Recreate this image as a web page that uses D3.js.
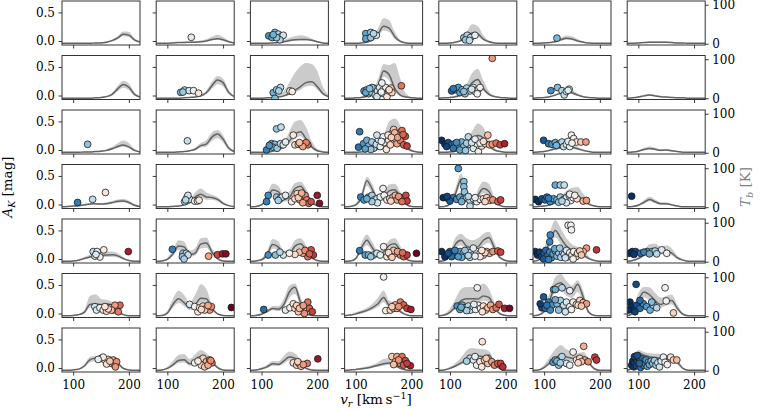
<!DOCTYPE html>
<html>
<head>
<meta charset="utf-8">
<script src="https://cdn.jsdelivr.net/npm/d3@7"></script>
<style>
body { margin: 0; background: #fff; }
svg text { font-family: "DejaVu Serif", serif; }
</style>
</head>
<body>
<div id="chart"></div>
<script>
// velocity grid for the Tb profiles (km/s)
const vGrid = [80, 90, 100, 110, 120, 130, 140, 150, 160, 170, 180, 190, 200, 210, 220];

// mean Tb profile per panel, row by row (7 x 7)
const tbLine = [
  [1,1,1,1,1,1,2,2,4,8,15,24,22,10,4],
  [1,1,1,2,3,3,4,4,5,7,11,13,10,5,2],
  [1,1,1,1,2,3,5,8,10,11,11,9,5,2,1],
  [1,1,1,2,4,10,25,45,40,18,6,2,1,1,1],
  [1,1,2,4,8,18,28,25,12,5,2,1,1,1,1],
  [1,1,2,3,5,10,14,12,7,4,2,1,1,1,1],
  [1,1,2,3,4,4,4,4,3,2,2,1,1,1,1],

  [0,0,0,0,0,0,1,2,4,10,24,35,28,10,3],
  [0,0,0,0,0,1,2,3,6,14,32,47,40,15,4],
  [0,0,0,1,2,3,6,12,20,30,40,42,30,12,4],
  [0,0,1,2,5,12,30,70,60,25,8,3,1,0,0],
  [0,1,2,4,8,20,40,48,25,10,4,2,1,0,0],
  [0,1,2,4,8,13,17,14,8,4,2,1,0,0,0],
  [0,1,3,6,8,6,4,3,2,1,1,0,0,0,0],

  [1,1,1,1,2,2,3,4,6,10,16,20,15,6,2],
  [1,1,1,1,2,3,5,9,18,22,40,48,35,12,3],
  [1,1,1,2,4,8,15,30,48,54,35,15,5,2,1],
  [1,1,1,2,3,5,10,22,45,58,40,15,5,2,1],
  [1,1,2,4,8,15,30,45,38,18,7,3,1,1,1],
  [1,2,3,6,10,13,15,14,10,6,3,1,1,1,1],
  [1,2,4,8,11,9,6,7,5,3,1,1,1,1,1],

  [1,2,3,4,6,8,9,8,9,12,15,16,12,5,2],
  [1,1,1,2,3,6,12,26,33,26,25,20,10,4,1],
  [1,2,6,22,44,40,20,25,48,54,35,12,4,1,1],
  [1,2,6,25,68,45,18,25,42,45,25,8,2,1,1],
  [1,2,8,35,72,25,5,30,48,40,15,4,1,1,1],
  [1,2,3,6,12,20,32,37,30,18,8,3,1,1,1],
  [1,2,5,12,20,14,9,9,6,3,1,1,1,1,1],

  [1,1,2,4,8,12,15,16,17,18,15,8,3,1,1],
  [1,2,6,20,40,38,18,22,45,48,25,8,2,1,1],
  [1,2,5,18,44,38,18,20,40,46,30,10,3,1,1],
  [1,2,8,35,55,35,18,25,42,46,28,8,2,1,1],
  [1,3,15,45,55,40,35,38,55,62,35,10,3,1,1],
  [1,4,20,50,80,60,40,30,26,18,8,3,1,1,1],
  [1,3,8,18,30,32,25,28,22,10,4,1,1,1,1],

  [1,1,2,4,10,30,32,30,32,28,12,4,1,1,1],
  [1,2,8,30,45,35,22,30,46,45,20,6,2,1,1],
  [1,2,5,12,20,18,30,62,74,35,8,2,1,1,1],
  [1,3,6,10,15,22,32,48,28,25,12,4,1,1,1],
  [1,3,10,25,40,45,45,44,52,48,22,6,2,1,1],
  [1,3,12,40,80,86,70,62,82,50,10,2,1,1,1],
  [1,8,40,62,55,40,30,36,40,20,5,1,1,1,1],

  [1,1,2,4,12,28,32,32,30,32,20,6,2,1,1],
  [1,2,6,15,26,28,18,20,30,30,22,8,2,1,1],
  [1,2,5,10,18,16,25,35,32,20,6,2,1,1,1],
  [1,2,3,5,7,10,14,18,20,14,6,2,1,1,1],
  [1,2,6,12,20,28,34,38,36,40,18,5,1,1,1],
  [1,2,8,20,32,40,35,32,30,35,20,5,1,1,1],
  [1,8,46,40,36,34,32,30,30,22,6,1,1,1,1]
];

// upper edge of the grey Tb spread
const tbHi = [
  [2,2,2,2,2,2,3,4,6,11,19,31,30,14,6],
  [2,2,2,3,4,5,5,6,8,12,18,23,17,8,3],
  [2,2,2,2,3,5,9,15,20,22,19,13,7,3,2],
  [2,2,2,3,6,16,40,65,60,30,10,4,2,2,2],
  [2,2,3,6,14,30,50,45,22,8,3,2,2,2,2],
  [2,2,3,4,7,15,21,19,12,6,3,2,2,2,2],
  [2,2,3,4,6,6,6,6,5,4,3,2,2,2,2],

  [1,1,1,1,1,1,2,3,6,14,32,45,38,15,5],
  [1,1,1,1,1,2,3,5,9,20,42,57,50,22,6],
  [1,1,1,2,4,8,18,40,65,82,90,88,70,30,8],
  [1,1,2,4,8,20,50,88,85,90,50,12,3,1,1],
  [1,2,4,7,14,35,65,75,45,18,7,3,2,1,1],
  [1,2,3,6,11,18,25,22,13,6,3,2,1,1,1],
  [1,2,5,9,11,9,6,5,3,2,2,1,1,1,1],

  [2,2,2,2,3,3,4,6,9,15,24,31,25,10,4],
  [2,2,2,2,3,4,7,13,25,32,52,58,45,18,5],
  [2,2,2,3,6,12,25,55,80,84,65,30,10,4,2],
  [2,2,2,3,5,8,18,45,80,88,70,30,10,3,2],
  [2,2,4,7,14,28,55,75,65,35,12,5,2,2,2],
  [2,3,5,9,15,20,24,22,16,9,5,2,2,2,2],
  [2,3,6,12,16,13,9,10,7,4,2,2,2,2,2],

  [2,3,4,6,8,10,11,11,13,16,20,22,17,8,3],
  [2,2,2,3,5,9,18,38,48,38,32,26,14,6,2],
  [2,3,10,35,60,55,30,40,62,65,48,20,6,2,2],
  [2,3,10,35,78,58,28,38,58,60,38,12,4,2,2],
  [2,3,12,50,86,40,10,45,66,60,25,6,2,2,2],
  [2,3,5,9,18,28,42,50,52,35,14,5,2,2,2],
  [2,3,8,18,27,20,13,13,9,5,2,2,2,2,2],

  [2,2,3,6,12,18,22,24,26,26,22,12,5,2,2],
  [2,3,10,30,55,52,28,35,60,62,35,12,4,2,2],
  [2,3,8,28,58,52,28,32,55,60,42,15,5,2,2],
  [2,3,12,48,70,50,28,38,55,60,40,12,4,2,2],
  [2,5,25,62,72,60,55,60,72,77,50,15,5,2,2],
  [2,8,35,75,106,85,60,45,38,28,14,5,2,2,2],
  [2,5,14,28,45,47,38,42,34,16,6,2,2,2,2],

  [2,2,3,6,15,52,56,45,42,36,18,6,2,2,2],
  [2,3,14,45,65,55,35,55,82,70,30,9,3,2,2],
  [2,3,8,16,26,26,45,78,84,50,14,4,2,2,2],
  [2,5,10,15,22,32,48,66,40,34,18,6,2,2,2],
  [2,6,20,45,70,75,75,76,84,70,35,10,3,2,2],
  [2,5,20,60,100,108,90,78,92,65,16,4,2,2,2],
  [2,12,58,75,74,60,48,52,55,30,8,2,2,2,2],

  [2,2,3,6,16,36,38,38,35,36,25,9,3,2,2],
  [2,3,10,25,40,43,30,42,53,45,30,12,4,2,2],
  [2,3,8,15,25,24,38,49,45,28,9,3,2,2,2],
  [2,3,5,8,11,15,22,30,32,22,9,3,2,2,2],
  [2,4,10,20,34,52,58,56,55,50,24,6,2,2,2],
  [2,4,15,35,55,66,55,48,45,48,30,8,2,2,2],
  [2,12,53,48,45,44,42,40,38,28,9,2,2,2,2]
];

// lower edge of the grey Tb spread
const tbLo = [
  [0,0,0,0,0,0,1,1,3,6,11,19,17,7,3],
  [0,0,0,1,2,2,3,3,4,5,8,10,7,3,1],
  [0,0,0,0,1,2,3,5,7,8,8,6,3,1,0],
  [0,0,0,1,3,7,18,34,30,12,4,1,0,0,0],
  [0,0,1,3,6,13,21,18,8,3,1,0,0,0,0],
  [0,0,1,2,3,7,10,9,5,3,1,0,0,0,0],
  [0,0,1,2,3,3,3,3,2,1,1,0,0,0,0],

  [0,0,0,0,0,0,0,1,3,7,18,27,21,7,2],
  [0,0,0,0,0,0,1,2,4,10,24,36,30,11,3],
  [0,0,0,0,1,2,4,8,14,22,30,32,22,8,3],
  [0,0,0,1,3,8,22,55,45,18,5,2,0,0,0],
  [0,0,1,3,6,14,30,36,18,7,3,1,0,0,0],
  [0,0,1,3,6,10,13,10,6,3,1,0,0,0,0],
  [0,0,2,4,6,4,3,2,1,0,0,0,0,0,0],

  [0,0,0,0,1,1,2,3,4,7,12,15,11,4,1],
  [0,0,0,0,1,2,3,6,13,16,30,37,26,8,2],
  [0,0,0,1,3,6,11,22,36,42,26,11,3,1,0],
  [0,0,0,1,2,3,7,16,34,45,30,11,3,1,0],
  [0,0,1,3,6,11,22,34,28,13,5,2,0,0,0],
  [0,1,2,4,7,10,11,10,7,4,2,0,0,0,0],
  [0,1,3,6,8,6,4,5,3,2,0,0,0,0,0],

  [0,1,2,3,4,6,7,6,7,9,11,12,9,3,1],
  [0,0,0,1,2,4,9,19,25,19,19,15,7,3,0],
  [0,1,4,16,33,30,14,18,36,42,26,9,3,0,0],
  [0,1,4,18,55,34,13,18,32,34,18,6,1,0,0],
  [0,1,6,26,58,18,3,22,36,30,11,3,0,0,0],
  [0,1,2,4,9,15,24,28,22,13,6,2,0,0,0],
  [0,1,3,9,15,10,6,6,4,2,0,0,0,0,0],

  [0,0,1,3,6,9,11,12,12,13,11,6,2,0,0],
  [0,1,4,15,30,28,13,16,34,36,18,6,1,0,0],
  [0,1,3,13,33,28,13,15,30,35,22,7,2,0,0],
  [0,1,6,26,42,26,13,18,32,35,21,6,1,0,0],
  [0,2,11,34,42,30,26,28,42,48,26,7,2,0,0],
  [0,3,15,38,62,45,30,22,19,13,6,2,0,0,0],
  [0,2,6,13,22,24,18,21,16,7,3,0,0,0,0],

  [0,0,1,3,7,22,24,22,24,21,9,3,0,0,0],
  [0,1,6,22,34,26,16,22,35,34,15,4,1,0,0],
  [0,1,3,9,15,13,22,47,57,26,6,1,0,0,0],
  [0,2,4,7,11,16,24,36,21,18,9,3,0,0,0],
  [0,2,7,18,30,34,34,33,40,36,16,4,1,0,0],
  [0,2,9,30,62,66,53,47,62,38,7,1,0,0,0],
  [0,6,30,48,42,30,22,27,30,15,3,0,0,0,0],

  [0,0,1,3,9,21,24,24,22,24,15,4,1,0,0],
  [0,1,4,11,19,21,13,15,22,22,16,6,1,0,0],
  [0,1,3,7,13,12,18,26,24,15,4,1,0,0,0],
  [0,1,2,3,5,7,10,13,15,10,4,1,0,0,0],
  [0,1,4,9,15,21,25,28,27,30,13,3,0,0,0],
  [0,1,6,15,24,30,26,24,22,26,15,3,0,0,0],
  [0,6,36,30,27,25,24,22,22,16,4,0,0,0,0]
];

// stars per panel: [v_r, A_K]
const stars = [
  [],
  [[143,0.065]],
  [[113,0.09],[124,0.15],[119,0.06],[130,0.12],[136,0.08],[139,0.10],[133,0.02],[127,0.06],[121,0.11]],
  [[118,0.13],[127,0.15],[118,0.04],[127,0.06],[137,0.10],[132,0.13]],
  [[125,0.06],[131,0.10],[137,0.06],[145,0.10],[128,0.02],[135,0.01]],
  [[123,0.05]],
  [],

  [],
  [[124,0.055],[131,0.095],[139,0.085],[147,0.085],[156,0.04],[128,0.06]],
  [[121,0.05],[127,0.10],[134,0.14],[131,0.08],[124,-0.05],[151,0.08],[155,0.07]],
  [[115,0.08],[120,0.10],[123,0.03],[128,0.06],[132,0.13],[135,0.01],[139,0.08],[143,0.14],[144,0.04],[149,0.10],[151,0.03],[154,0.14],[156,-0.02],[159,0.08],[163,0.13],[165,0.05],[147,0.22],[182,0.17],[129,0.14],[138,-0.02],[118,0.05],[125,0.12],[160,0.10],[146,0.06]],
  [[103,0.08],[110,0.10],[115,0.14],[118,0.05],[122,0.10],[130,0.13],[136,0.08],[142,0.14],[145,0.07],[151,0.11],[154,0.14],[149,0.03],[127,0.03],[176,0.65],[106,0.12],[125,0.07],[139,0.11]],
  [[112,0.085],[124,0.14],[132,0.085],[136,0.01],[140,0.07],[145,0.11],[143,0.09]],
  [],

  [[126,0.10]],
  [[136,0.16]],
  [[109,0.0],[118,0.11],[124,0.10],[120,0.05],[128,0.03],[134,0.11],[139,0.09],[143,0.14],[127,0.37],[135,0.40],[157,0.26],[160,0.09],[166,0.10],[171,0.10],[177,0.10],[183,0.09],[180,0.13],[174,0.06],[114,0.08],[168,0.13]],
  [[107,0.32],[105,0.05],[114,0.11],[120,0.17],[123,0.07],[129,0.14],[132,0.03],[137,0.10],[141,0.18],[144,0.06],[149,0.23],[151,0.13],[155,0.01],[159,0.17],[162,0.09],[165,0.29],[168,0.36],[171,0.20],[174,0.11],[177,0.29],[180,0.17],[183,0.34],[186,0.09],[189,0.24],[192,0.07],[158,0.26],[138,0.26],[127,0.01],[170,0.30],[175,0.22],[185,0.27],[164,0.22],[146,0.15],[117,0.02]],
  [[85,0.17],[91,0.10],[97,0.13],[103,0.09],[109,0.11],[115,0.07],[121,0.14],[125,0.06],[133,0.23],[136,0.10],[142,0.03],[148,0.11],[151,-0.03],[157,0.07],[163,0.11],[168,0.26],[171,0.09],[118,0.0],[128,-0.01],[142,0.17],[94,0.06],[112,0.13],[130,0.12],[139,0.13],[154,0.12],[160,0.15],[176,0.10],[183,0.12],[190,0.09],[198,0.11],[106,0.03],[145,0.19]],
  [[99,0.17],[108,0.11],[114,0.10],[120,0.13],[126,0.10],[132,0.14],[135,0.06],[140,0.10],[146,0.06],[149,0.26],[153,0.20],[158,0.14],[166,0.14],[175,0.14],[143,0.15],[122,0.08],[150,0.12]],
  [],

  [[108,0.035],[135,0.09],[158,0.21]],
  [[131,0.05],[135,0.12],[140,0.09],[137,0.16],[149,0.06],[154,0.06],[157,0.075],[133,0.08]],
  [[112,0.16],[109,0.05],[127,0.13],[133,0.10],[137,0.13],[143,0.16],[154,0.05],[160,0.10],[164,0.19],[169,0.08],[175,0.15],[178,0.16],[181,0.08],[185,0.02],[189,0.05],[200,0.16],[204,0.02],[174,0.03],[166,0.12],[172,0.20],[130,0.07]],
  [[109,0.13],[115,0.08],[123,0.13],[129,0.16],[133,0.08],[138,0.10],[144,0.13],[149,0.28],[151,0.16],[156,0.08],[161,0.10],[167,0.13],[171,0.16],[174,0.08],[180,0.12],[186,0.09],[190,0.16],[192,0.06],[139,0.03],[129,0.05],[120,0.10],[163,0.06],[177,0.14],[183,0.05]],
  [[115,0.63],[125,0.40],[125,0.31],[126,0.22],[88,0.12],[97,0.10],[106,0.12],[112,0.09],[118,0.13],[124,0.09],[130,0.12],[136,0.07],[142,0.10],[148,0.05],[154,0.09],[160,0.10],[166,0.12],[171,0.07],[177,0.08],[186,0.05],[136,-0.03],[191,0.08],[100,0.06],[121,0.05],[145,0.12],[163,0.05],[95,0.14],[133,0.14]],
  [[120,0.34],[129,0.34],[136,0.34],[84,0.09],[90,0.05],[96,0.10],[102,0.08],[105,0.13],[111,0.05],[117,0.10],[123,0.08],[129,0.13],[135,0.09],[140,0.12],[145,0.16],[148,0.07],[152,0.12],[159,0.10],[170,0.06],[176,0.07],[140,0.03],[146,0.18],[108,0.11],[126,0.04],[132,0.06],[155,0.16]],
  [[88,0.145]],

  [[136,0.13],[143,0.13],[148,0.035],[155,0.16],[199,0.13],[139,0.05],[141,0.08]],
  [[109,0.17],[128,0.10],[131,0.05],[134,0.10],[137,0.07],[127,0.04],[130,0.0],[174,0.05],[190,0.075],[199,0.09],[205,0.09]],
  [[112,0.07],[125,0.07],[139,0.07],[133,0.12],[180,0.11],[189,0.16],[193,0.07],[183,0.04],[174,0.10],[168,0.12],[160,0.08],[178,0.15],[186,0.09],[150,0.10]],
  [[107,0.145],[117,0.07],[123,0.07],[132,0.07],[138,0.10],[150,0.215],[156,0.04],[162,0.07],[171,0.10],[180,0.07],[186,0.04],[192,0.07],[168,0.15],[144,0.07],[209,0.10],[175,0.13],[127,0.04],[159,0.11],[184,0.11],[165,0.03]],
  [[85,0.13],[94,0.07],[100,0.13],[106,0.10],[112,0.07],[118,0.13],[124,0.10],[130,0.07],[136,0.11],[142,0.07],[148,0.13],[154,0.10],[160,0.07],[166,0.13],[171,0.10],[177,0.13],[186,0.14],[91,0.04],[103,0.04],[121,0.03],[136,0.03],[154,0.04],[142,0.19],[191,0.12],[97,0.10],[109,0.15],[127,0.15],[145,0.05],[163,0.11],[115,0.04],[133,0.06],[157,0.15]],
  [[111,0.42],[110,0.30],[143,0.59],[148,0.59],[149,0.51],[194,0.16],[84,0.13],[176,0.19],[170,0.13],[88,0.07],[92,0.12],[96,0.04],[100,0.10],[103,0.15],[106,0.06],[110,0.12],[113,0.02],[116,0.09],[120,0.14],[123,0.05],[126,0.11],[130,0.03],[133,0.13],[136,0.08],[140,0.15],[143,0.04],[146,0.11],[150,0.07],[153,0.13],[157,0.04],[160,0.10],[164,0.14],[167,0.07],[119,0.18],[128,0.19],[99,0.00],[108,-0.01],[138,0.02],[152,0.00]],
  [[83,0.10],[89,0.13],[95,0.13],[104,0.10],[116,0.13],[125,0.13],[130,0.14],[142,0.16],[151,0.10],[133,0.09],[92,0.08],[110,0.12],[120,0.09]],

  [[139,0.12],[142,0.06],[148,0.10],[154,0.06],[160,0.04],[166,0.10],[172,0.06],[178,0.09],[184,0.145],[175,0.145],[181,0.03],[169,0.06],[163,0.08],[157,0.12]],
  [[140,0.16],[149,0.12],[155,0.03],[158,0.10],[164,0.13],[170,0.09],[176,0.06],[179,0.12],[167,0.06],[173,0.14],[215,0.105],[161,0.07]],
  [[104,0.07],[143,0.06],[151,0.10],[157,0.17],[160,0.09],[163,0.14],[166,0.03],[168,0.09],[177,0.0],[183,0.2],[186,0.09],[191,0.03],[175,0.14]],
  [[150,0.64],[154,0.05],[162,0.06],[168,0.09],[174,0.09],[180,0.20],[186,0.15],[192,0.09],[199,0.07],[171,0.15],[165,0.12],[177,0.12]],
  [[113,0.13],[118,0.07],[122,0.145],[127,0.10],[133,0.13],[137,0.06],[142,0.12],[146,0.07],[151,0.145],[155,0.09],[160,0.13],[164,0.06],[168,0.10],[173,0.145],[177,0.07],[183,0.10],[188,0.16],[149,0.45],[198,0.09],[207,0.09],[130,0.05],[158,0.03],[143,0.16],[120,0.11]],
  [[99,0.29],[96,0.10],[117,0.42],[120,0.42],[132,0.45],[146,0.40],[108,0.20],[114,0.145],[123,0.17],[129,0.23],[135,0.145],[140,0.20],[146,0.12],[152,0.20],[158,0.16],[164,0.23],[170,0.19],[176,0.17],[102,0.09],[111,0.06],[126,0.06],[138,0.03],[149,0.07],[161,0.145],[167,0.13],[93,0.17],[105,0.145],[120,0.24]],
  [[96,0.51],[148,0.45],[150,0.22],[163,0.01],[85,0.20],[88,0.12],[91,0.06],[97,0.145],[103,0.09],[109,0.17],[115,0.12],[121,0.06],[127,0.145],[133,0.10],[124,0.20],[103,0.23],[94,0.03],[82,0.06]],

  [[151,0.17],[157,0.14],[163,0.15],[169,0.08],[172,0.14],[175,0.05],[178,0.11],[160,0.07],[154,0.19],[166,0.12],[145,0.15],[176,0.02]],
  [[149,0.09],[158,0.14],[164,0.17],[170,0.11],[176,0.14],[180,0.09],[161,0.05],[167,0.02],[173,0.05],[155,0.12],[178,0.13]],
  [[157,0.09],[163,0.05],[167,0.08],[171,0.03],[182,0.08],[201,0.16],[165,0.11],[175,0.06]],
  [[165,0.2],[174,0.2],[183,0.2],[189,0.13],[171,0.11],[180,0.08],[186,0.05],[198,0.04],[177,0.14],[192,0.08],[168,0.06]],
  [[158,0.46],[136,0.17],[142,0.14],[148,0.05],[154,0.11],[162,0.14],[168,0.08],[175,0.11],[180,0.05],[186,0.08],[145,0.20],[165,0.17],[191,0.08],[195,0.02],[130,0.12],[157,0.02]],
  [[116,0.10],[126,0.05],[132,0.2],[140,0.08],[146,0.05],[152,0.28],[158,0.14],[164,0.17],[171,0.38],[173,0.14],[179,0.11],[191,0.19],[194,0.14],[167,0.11],[120,0.14],[161,0.09],[123,0.12],[129,0.09]],
  [[88,0.05],[90,0.12],[92,0.02],[94,0.09],[96,0.15],[97,0.04],[99,0.11],[100,0.18],[101,0.06],[103,0.13],[104,0.01],[106,0.09],[107,0.16],[109,0.05],[110,0.12],[112,0.08],[114,0.14],[116,0.03],[118,0.10],[120,0.06],[123,0.12],[126,0.08],[129,0.13],[132,0.05],[135,0.09],[138,0.02],[141,0.12],[145,0.19],[148,0.10],[152,0.06],[158,0.19],[163,0.14],[169,0.14],[93,0.20],[98,0.22],[102,0.08]]
];

const akTicks = [0, 0.5];
const vTicks = [100, 200];
const tbTicks = [0, 100];

// layout
const nCols = 7, nRows = 7;
const left0 = 62, top0 = 1;
const pw = 78, ph = 44;
const stepX = 94.2, stepY = 54.5;

const svg = d3.select('#chart').append('svg')
    .attr('width', 760)
    .attr('height', 409);

const x = d3.scaleLinear().domain([80, 220]).range([0, pw]);
const yA = d3.scaleLinear().domain([-0.07, 0.70]).range([ph, 0]);
const yT = d3.scaleLinear().domain([-3.3, 109.5]).range([ph, 0]);
// stars coloured by velocity, blue (low) to red (high)
const color = d3.scaleDiverging([210, 150, 90], d3.interpolateRdBu);

svg.append('defs').append('clipPath').attr('id', 'clip')
    .append('rect').attr('width', pw).attr('height', ph);

const area = d3.area()
    .x(d => x(d.v)).y0(d => yT(d.lo)).y1(d => yT(d.hi))
    .curve(d3.curveMonotoneX);
const line = d3.line()
    .x(d => x(d.v)).y(d => yT(d.t))
    .curve(d3.curveMonotoneX);

function styleAxis(g){
    g.select('.domain').remove();
    g.selectAll('.tick line').attr('stroke', '#222').attr('stroke-width', 0.9);
    g.selectAll('.tick text').attr('fill', '#000');
    g.attr('font-family', '"DejaVu Serif", serif').attr('font-size', 12);
}

for (let i = 0; i < nCols * nRows; i++) {
    const r = Math.floor(i / nCols), c = i % nCols;
    const g = svg.append('g')
        .attr('transform', `translate(${left0 + c * stepX}, ${top0 + r * stepY})`);

    const plot = g.append('g').attr('clip-path', 'url(#clip)');
    const prof = vGrid.map((v, k) => ({v: v, t: tbLine[i][k], lo: tbLo[i][k], hi: tbHi[i][k]}));

    plot.append('path').datum(prof)
        .attr('d', area)
        .attr('fill', '#cbcbcb');
    plot.append('path').datum(prof)
        .attr('d', line)
        .attr('fill', 'none')
        .attr('stroke', '#636363')
        .attr('stroke-width', 1.5);

    plot.selectAll('circle')
        .data(stars[i])
        .join('circle')
        .attr('cx', d => x(d[0]))
        .attr('cy', d => yA(d[1]))
        .attr('r', 3.4)
        .attr('fill', d => color(d[0]))
        .attr('stroke', '#1a1a1a')
        .attr('stroke-width', 0.8);

    g.append('rect')
        .attr('width', pw).attr('height', ph)
        .attr('fill', 'none')
        .attr('stroke', '#333')
        .attr('stroke-width', 1);

    g.append('g')
        .call(d3.axisLeft(yA).tickValues(akTicks).tickSize(3.5).tickPadding(3.5)
            .tickFormat(c === 0 ? d3.format('.1f') : ''))
        .call(styleAxis);

    g.append('g')
        .attr('transform', `translate(0, ${ph})`)
        .call(d3.axisBottom(x).tickValues(vTicks).tickSize(3.5).tickPadding(4.5)
            .tickFormat(r === nRows - 1 ? d3.format('d') : ''))
        .call(styleAxis);

    if (c === nCols - 1) {
        g.append('g')
            .attr('transform', `translate(${pw}, 0)`)
            .call(d3.axisRight(yT).tickValues(tbTicks).tickSize(3.5).tickPadding(3.5)
                .tickFormat(d3.format('d')))
            .call(styleAxis);
    }
}

// axis titles
const ak = svg.append('text')
    .attr('transform', 'translate(12, 187) rotate(-90)')
    .attr('text-anchor', 'middle')
    .attr('font-size', 13.5);
ak.append('tspan').attr('font-style', 'italic').text('A');
ak.append('tspan').attr('font-style', 'italic').attr('font-size', 9.5).attr('dy', 3).text('K');
ak.append('tspan').attr('dy', -3).text(' [mag]');

const tb = svg.append('text')
    .attr('transform', 'translate(750, 187) rotate(-90)')
    .attr('text-anchor', 'middle')
    .attr('fill', '#808080')
    .attr('font-size', 13.5);
tb.append('tspan').attr('font-style', 'italic').text('T');
tb.append('tspan').attr('font-style', 'italic').attr('font-size', 9.5).attr('dy', 3).text('b');
tb.append('tspan').attr('dy', -3).text(' [K]');

const vr = svg.append('text')
    .attr('x', 376).attr('y', 404)
    .attr('text-anchor', 'middle')
    .attr('font-size', 13.5);
vr.append('tspan').attr('font-style', 'italic').text('v');
vr.append('tspan').attr('font-style', 'italic').attr('font-size', 9.5).attr('dy', 3).text('r');
vr.append('tspan').attr('dy', -3).text(' [km\u2009s');
vr.append('tspan').attr('font-size', 9.5).attr('dy', -5).text('\u22121');
vr.append('tspan').attr('dy', 5).text(']');
</script>
</body>
</html>
